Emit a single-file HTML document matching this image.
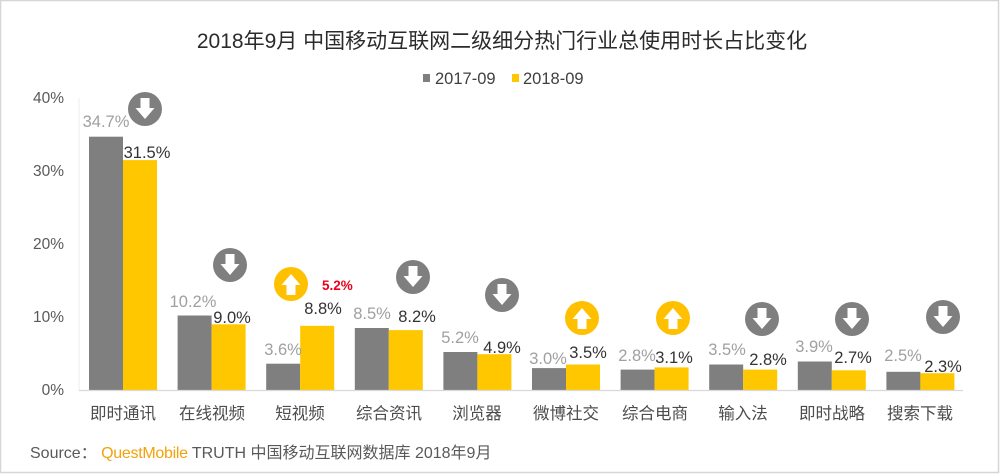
<!DOCTYPE html>
<html><head><meta charset="utf-8"><style>
html,body{margin:0;padding:0;background:#fff;}
svg{display:block;}
text{font-family:"Liberation Sans","Noto Sans CJK SC",sans-serif;}
</style></head><body>
<svg width="1000" height="474" viewBox="0 0 1000 474" xmlns="http://www.w3.org/2000/svg">
<rect x="0.5" y="0.5" width="998" height="472" fill="#fff" stroke="#d6d6d6" stroke-width="1.5"/>
<text x="502" y="48" text-anchor="middle" font-size="21" fill="#2b2b2b">2018年9月 中国移动互联网二级细分热门行业总使用时长占比变化</text>
<rect x="423" y="74" width="7" height="8" fill="#7f7f7f"/>
<text x="435" y="84" font-size="16.5" fill="#404040">2017-09</text>
<rect x="512" y="74" width="7" height="8" fill="#ffc700"/>
<text x="523" y="84" font-size="16.5" fill="#404040">2018-09</text>
<g font-size="15.5" fill="#595959" text-anchor="end">
<text x="64" y="103">40%</text><text x="64" y="176">30%</text><text x="64" y="249">20%</text><text x="64" y="322">10%</text><text x="64" y="395">0%</text>
</g>
<line x1="79" y1="98" x2="79" y2="390" stroke="#eeeeee" stroke-width="1"/>
<g id="bars">
<rect x="89" y="136.7" width="34" height="253.3" fill="#7f7f7f"/><rect x="123" y="160.1" width="34" height="229.9" fill="#ffc700"/>
<rect x="177.6" y="315.5" width="34" height="74.5" fill="#7f7f7f"/><rect x="211.6" y="324.3" width="34" height="65.7" fill="#ffc700"/>
<rect x="266.2" y="363.7" width="34" height="26.3" fill="#7f7f7f"/><rect x="300.2" y="325.8" width="34" height="64.2" fill="#ffc700"/>
<rect x="354.8" y="328" width="34" height="62" fill="#7f7f7f"/><rect x="388.8" y="330.1" width="34" height="59.9" fill="#ffc700"/>
<rect x="443.4" y="352" width="34" height="38" fill="#7f7f7f"/><rect x="477.4" y="354.2" width="34" height="35.8" fill="#ffc700"/>
<rect x="532" y="368.1" width="34" height="21.9" fill="#7f7f7f"/><rect x="566" y="364.5" width="34" height="25.5" fill="#ffc700"/>
<rect x="620.6" y="369.6" width="34" height="20.4" fill="#7f7f7f"/><rect x="654.6" y="367.4" width="34" height="22.6" fill="#ffc700"/>
<rect x="709.2" y="364.5" width="34" height="25.5" fill="#7f7f7f"/><rect x="743.2" y="369.6" width="34" height="20.4" fill="#ffc700"/>
<rect x="797.8" y="361.5" width="34" height="28.5" fill="#7f7f7f"/><rect x="831.8" y="370.3" width="34" height="19.7" fill="#ffc700"/>
<rect x="886.4" y="371.8" width="34" height="18.2" fill="#7f7f7f"/><rect x="920.4" y="373.2" width="34" height="16.8" fill="#ffc700"/>
</g>
<line x1="79" y1="390.5" x2="963" y2="390.5" stroke="#d9d9d9" stroke-width="1.2"/>
<g font-size="16.5" fill="#a0a0a0" text-anchor="middle">
<text x="106" y="127">34.7%</text><text x="193" y="307">10.2%</text><text x="283" y="355">3.6%</text><text x="372" y="319">8.5%</text><text x="460" y="343">5.2%</text><text x="548" y="364">3.0%</text><text x="637" y="361">2.8%</text><text x="727" y="355">3.5%</text><text x="814" y="352">3.9%</text><text x="903" y="361">2.5%</text>
</g>
<g font-size="16.5" fill="#333" text-anchor="middle">
<text x="147" y="158">31.5%</text><text x="232" y="323">9.0%</text><text x="323" y="314">8.8%</text><text x="417" y="322">8.2%</text><text x="502" y="353">4.9%</text><text x="588" y="358">3.5%</text><text x="674" y="363">3.1%</text><text x="768" y="365">2.8%</text><text x="853" y="363">2.7%</text><text x="943" y="372">2.3%</text>
</g>
<text x="322" y="290" font-size="13.5" font-weight="bold" fill="#e8001c">5.2%</text>
<defs>
<g id="dn"><circle r="17" fill="#7f7f7f"/><rect x="-4.5" y="-11" width="9" height="11" fill="#fff"/><polygon points="-9.5,-1 9.5,-1 0,10" fill="#fff"/></g>
<g id="up"><circle r="17" fill="#ffc000"/><rect x="-4.5" y="0" width="9" height="11" fill="#fff"/><polygon points="-9.5,1 9.5,1 0,-10" fill="#fff"/></g>
</defs>
<use href="#dn" x="145" y="109"/>
<use href="#dn" x="230" y="265"/>
<use href="#up" x="291" y="284"/>
<use href="#dn" x="413" y="277"/>
<use href="#dn" x="502" y="295"/>
<use href="#up" x="582" y="318"/>
<use href="#up" x="673" y="318"/>
<use href="#dn" x="762" y="319"/>
<use href="#dn" x="852" y="319"/>
<use href="#dn" x="943" y="317"/>
<g font-size="16.5" fill="#4d4d4d" text-anchor="middle">
<text x="123" y="419">即时通讯</text><text x="212" y="419">在线视频</text><text x="300" y="419">短视频</text><text x="389" y="419">综合资讯</text><text x="477" y="419">浏览器</text><text x="566" y="419">微博社交</text><text x="655" y="419">综合电商</text><text x="743" y="419">输入法</text><text x="832" y="419">即时战略</text><text x="920" y="419">搜索下载</text>
</g>
<text x="30" y="458" font-size="16" fill="#595959">Source： <tspan fill="#f0a30a" letter-spacing="-0.3">QuestMobile</tspan> TRUTH 中国移动互联网数据库 2018年9月</text>
</svg>
</body></html>
